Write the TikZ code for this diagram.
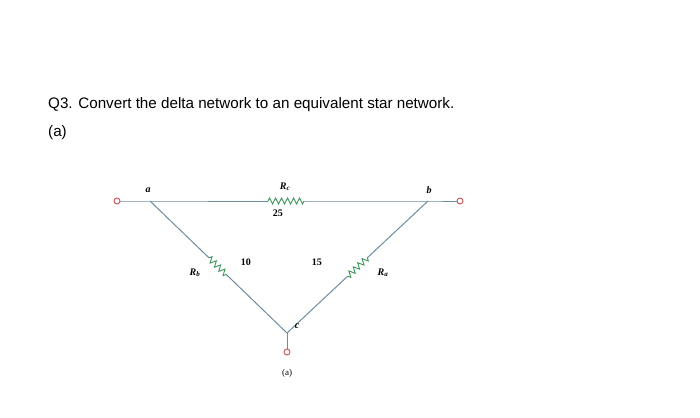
\documentclass[tikz,border=0pt]{standalone}
\usepackage{fontspec}
\setmainfont{Liberation Serif}
\newfontfamily\arial{Liberation Sans}
\usetikzlibrary{decorations.pathmorphing,calc}
\definecolor{wire}{RGB}{110,140,160}
\definecolor{resg}{RGB}{60,150,90}
\definecolor{term}{RGB}{210,80,80}
\tikzset{wirel/.style={draw=wire,line width=1pt},
res/.style={draw=resg,line width=0.9pt,decorate,decoration={zigzag,segment length=6pt,amplitude=3pt}},
termc/.style={circle,draw=term,fill=white,line width=0.9pt,inner sep=0pt,minimum size=6pt},
lbl/.style={font=\itshape\bfseries\fontsize{10}{11}\selectfont,inner sep=1pt},
val/.style={font=\bfseries\fontsize{10}{11}\selectfont,inner sep=1pt}}
\begin{document}
\begin{tikzpicture}[x=1pt,y=-1pt]
\useasboundingbox (0,0) rectangle (700,417);
\node[anchor=west,font=\arial\fontsize{15.2}{17}\selectfont,inner sep=0] (t1) at (48,105) {Q3. Convert the delta network to an equivalent star network.};
\node[anchor=west,font=\arial\fontsize{15.2}{17}\selectfont,inner sep=0] (t2) at (48,133) {(a)};
\coordinate (a) at (150,201);
\coordinate (b) at (428,201);
\coordinate (c) at (287,333);
\node[termc] (ta) at (117,201) {};
\node[termc] (tb) at (460,201) {};
\node[termc] (tc) at (287,352) {};
\coordinate (rc1) at (268,201); \coordinate (rc2) at (304,201);
\coordinate (rb1) at ($(a)!0.43!(c)$); \coordinate (rb2) at ($(a)!0.57!(c)$);
\coordinate (ra1) at ($(b)!0.43!(c)$); \coordinate (ra2) at ($(b)!0.57!(c)$);
\draw[wirel] (ta) -- (a) -- (rc1); \draw[wirel] (rc2) -- (b) -- (tb);
\draw[wirel] (a) -- (rb1); \draw[wirel] (rb2) -- (c);
\draw[wirel] (b) -- (ra1); \draw[wirel] (ra2) -- (c);
\draw[wirel] (c) -- (tc);
\draw[res] (rc1) -- (rc2);
\draw[res] (rb1) -- (rb2);
\draw[res] (ra1) -- (ra2);
\node[lbl] (la) at (148,190) {a};
\node[lbl] (lb) at (429,190) {b};
\node[lbl] (lc) at (297,326) {c};
\node[lbl] (lrc) at (285,187) {R\textsubscript{c}};
\node[val] (v25) at (283,213) {25 $\mathbf{\Omega}$};
\node[lbl] (lrb) at (195,273) {R\textsubscript{b}};
\node[val] (v10) at (251,262) {10 $\mathbf{\Omega}$};
\node[lbl] (lra) at (383,273) {R\textsubscript{a}};
\node[val] (v15) at (322,262) {15 $\mathbf{\Omega}$};
\node[font=\fontsize{9}{10}\selectfont] (cap) at (287,373) {(a)};
\end{tikzpicture}
\end{document}
